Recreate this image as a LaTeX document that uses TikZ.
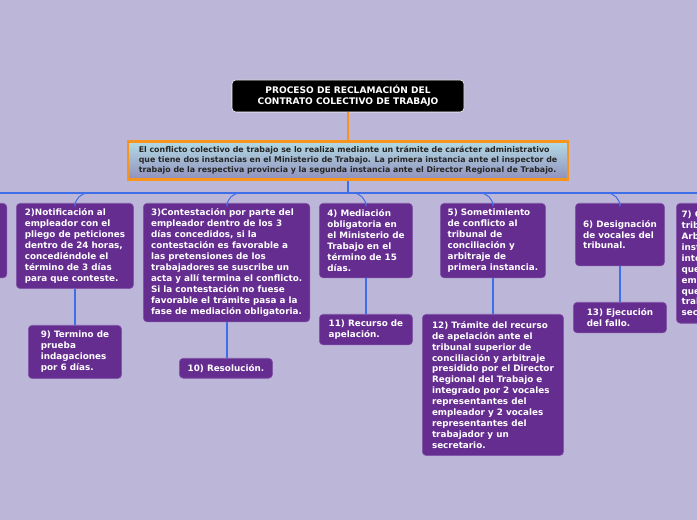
\documentclass[tikz,border=0pt]{standalone}
\usepackage{fontspec}
\setmainfont{DejaVu Sans}
\definecolor{bg}{HTML}{BCB6D9}
\definecolor{pur}{HTML}{662D91}
\definecolor{lnk}{HTML}{3F6FE8}
\definecolor{org}{HTML}{F7941D}
\begin{document}
\begin{tikzpicture}[x=0.75pt,y=-0.75pt,
  pbox/.style={draw=pur!80!white,fill=pur,rounded corners=3pt,text=white,font=\bfseries\fontsize{6.6}{8.2}\selectfont,align=left,anchor=north west,inner xsep=4pt,inner ysep=3pt},
  lk/.style={draw=lnk,line width=0.8pt,rounded corners=10pt}]
\fill[bg] (0,0) rectangle (697,520);
\clip (0,0) rectangle (697,520);
\node[draw=white,fill=black,rounded corners=3pt,minimum width=174pt,minimum height=24pt,text=white,font=\bfseries\fontsize{6.8}{8.4}\selectfont,align=center] (t) at (348,96) {PROCESO DE RECLAMACIÓN DEL\\CONTRATO COLECTIVO DE TRABAJO};
\node[draw=org,line width=2.2pt,top color=black!5!blue!20!cyan!25!white!80!gray, bottom color=blue!25!gray!70!white,minimum width=330pt,minimum height=29pt,font=\bfseries\fontsize{5.9}{7.4}\selectfont,text=black!85,align=left,inner sep=1pt] (m) at (348,160.5) {El conflicto colectivo de trabajo se lo realiza mediante un trámite de carácter administrativo\\que tiene dos instancias en el Ministerio de Trabajo. La primera instancia ante el inspector de\\trabajo de la respectiva provincia y la segunda instancia ante el Director Regional de Trabajo.};
\draw[org,line width=0.8pt] (t.south) -- (m.north);
\coordinate (hub) at (348,193);
\draw[lnk,line width=0.8pt] (m.south) -- (hub);
\draw[lnk,line width=0.8pt] (0,193) -- (697,193);
% level 1
\node[pbox,minimum width=20pt,minimum height=56pt] (n1) at (-20,203) {};
\node[pbox,minimum width=88pt,minimum height=64pt] (n2) at (16,203) {2)Notificación al\\empleador con el\\pliego de peticiones\\dentro de 24 horas,\\concediéndole el\\término de 3 días\\para que conteste.};
\node[pbox,minimum width=125pt,minimum height=89pt] (n3) at (143,203) {3)Contestación por parte del\\empleador dentro de los 3\\días concedidos, si la\\contestación es favorable a\\las pretensiones de los\\trabajadores se suscribe un\\acta y allí termina el conflicto.\\Si la contestación no fuese\\favorable el trámite pasa a la\\fase de mediación obligatoria.};
\node[pbox,minimum width=70pt,minimum height=56pt] (n4) at (319,203) {4) Mediación\\obligatoria en\\el Ministerio de\\Trabajo en el\\término de 15\\días.};
\node[pbox,minimum width=79pt,minimum height=56pt] (n5) at (440,203) {5) Sometimiento\\de conflicto al\\tribunal de\\conciliación y\\arbitraje de\\primera instancia.};
\node[pbox,minimum width=67pt,minimum height=47pt] (n6) at (575,203) {6) Designación\\de vocales del\\tribunal.};
\node[pbox,minimum height=90pt] (n7) at (676,203) {7) Conformación del\\tribunal de Conciliación y\\Arbitraje de primera\\instancia,\\integrado por 2 vocales\\que representan al\\empleador, 2 vocales\\que representan a los\\trabajadores y un\\secretario.};
% level 2
\node[pbox,minimum width=70pt,minimum height=40pt] (n9) at (28,325) {9) Termino de\\prueba\\indagaciones\\por 6 días.};
\node[pbox,minimum width=70pt,minimum height=15pt] (n10) at (179,358) {10) Resolución.};
\node[pbox,minimum width=70pt,minimum height=23pt] (n11) at (319,314) {11) Recurso de\\apelación.};
\node[pbox,minimum width=106pt,minimum height=106pt] (n12) at (422,314) {12) Trámite del recurso\\de apelación ante el\\tribunal superior de\\conciliación y arbitraje\\presidido por el Director\\Regional del Trabajo e\\integrado por 2 vocales\\representantes del\\empleador y 2 vocales\\representantes del\\trabajador y un\\secretario.};
\node[pbox,minimum width=70pt,minimum height=23pt] (n13) at (573,302) {13) Ejecución\\del fallo.};
% connectors
\foreach \x in {75,227,366,493,620}{
  \draw[lk] (hub) -| (\x,203);}
\draw[lnk,line width=0.8pt] (75,289) -- (75,325);
\draw[lnk,line width=0.8pt] (227,322) -- (227,358);
\draw[lnk,line width=0.8pt] (366,278) -- (366,314);
\draw[lnk,line width=0.8pt] (493,278) -- (493,314);
\draw[lnk,line width=0.8pt] (620,266) -- (620,302);
\end{tikzpicture}
\end{document}
